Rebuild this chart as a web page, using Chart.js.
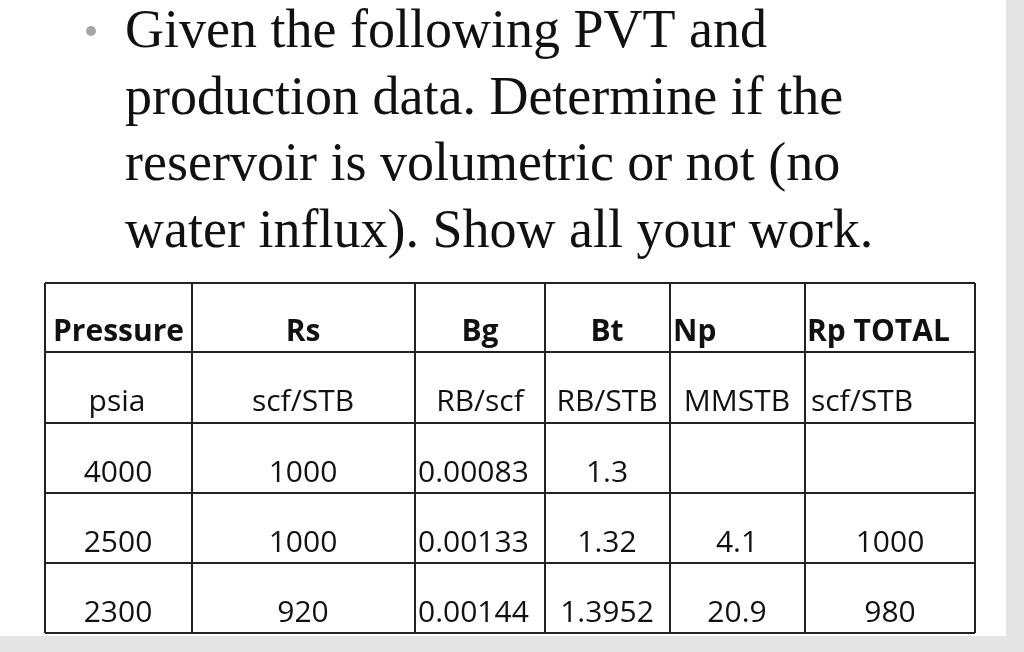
<!DOCTYPE html>
<html lang="en">
<head>
  <meta charset="UTF-8" />
  <title>PVT and production data</title>
  <script src="https://cdn.jsdelivr.net/npm/chart.js"></script>
  <style>
    html, body { margin: 0; padding: 0; background: #fff; }
    .wrap { width: 1024px; height: 652px; position: relative; }
  </style>
</head>
<body>
  <div class="wrap"><canvas id="slide"></canvas></div>

  <script>
    // slide text
    const titleLines = [
      'Given the following PVT and',
      'production data. Determine if the',
      'reservoir is volumetric or not (no',
      'water influx). Show all your work.'
    ];
    // table content
    const headers = ['Pressure', 'Rs', 'Bg', 'Bt', 'Np', 'Rp TOTAL'];
    const units = ['psia', 'scf/STB', 'RB/scf', 'RB/STB', 'MMSTB', 'scf/STB'];
    const pressure = ['4000', '2500', '2300'];
    const rs = ['1000', '1000', '920'];
    const bg = ['0.00083', '0.00133', '0.00144'];
    const bt = ['1.3', '1.32', '1.3952'];
    const np = ['', '4.1', '20.9'];
    const rp = ['', '1000', '980'];

    // layout in page units (x 0..1024, y 0..652)
    const colEdges = [45, 192, 415, 545, 670, 805, 975];
    const rowEdges = [283, 352, 423, 493, 563, 633];
    const headAnchor = [[53, 'left'], [303, 'center'], [480, 'center'], [607, 'center'], [673, 'left'], [807, 'left']];
    const unitAnchor = [[117, 'center'], [303, 'center'], [480, 'center'], [607, 'center'], [737, 'center'], [862, 'center']];
    const cellAnchor = [[118, 'center'], [303, 'center'], [418, 'left'], [607, 'center'], [737, 'center'], [890, 'center']];

    const tablePlugin = {
      id: 'tablePlugin',
      afterDraw(chart) {
        const ctx = chart.ctx;
        const xs = chart.scales.x, ys = chart.scales.y;
        const X = v => xs.getPixelForValue(v);
        const Y = v => ys.getPixelForValue(v);
        ctx.save();
        // grey frame strips
        ctx.fillStyle = '#e4e4e4';
        ctx.fillRect(X(1006), Y(0), X(1024) - X(1006), Y(652) - Y(0));
        ctx.fillRect(X(0), Y(636), X(1024) - X(0), Y(652) - Y(636));

        // bullet and title
        ctx.fillStyle = '#a6a6a6';
        ctx.beginPath();
        ctx.arc(X(91), Y(31), 5, 0, Math.PI * 2);
        ctx.fill();
        ctx.fillStyle = '#111';
        ctx.font = '54px "Liberation Serif", serif';
        ctx.textAlign = 'left';
        ctx.textBaseline = 'alphabetic';
        titleLines.forEach((t, i) => ctx.fillText(t, X(125), Y(47 + i * 66.5)));

        // grid
        ctx.strokeStyle = '#222';
        ctx.lineWidth = 2;
        ctx.fillStyle = '#fff';
        ctx.fillRect(X(colEdges[0]), Y(rowEdges[0]), X(colEdges[6]) - X(colEdges[0]), Y(rowEdges[5]) - Y(rowEdges[0]));
        rowEdges.forEach(r => {
          ctx.beginPath(); ctx.moveTo(X(colEdges[0]), Y(r)); ctx.lineTo(X(colEdges[6]), Y(r)); ctx.stroke();
        });
        colEdges.forEach(c => {
          ctx.beginPath(); ctx.moveTo(X(c), Y(rowEdges[0])); ctx.lineTo(X(c), Y(rowEdges[5])); ctx.stroke();
        });

        // text sits low in each cell
        ctx.fillStyle = '#111';
        ctx.textBaseline = 'middle';
        const put = (txt, anc, yc) => {
          ctx.textAlign = anc[1];
          ctx.fillText(txt, X(anc[0]), Y(yc));
        };
        const mid = i => (rowEdges[i] + rowEdges[i + 1]) / 2 + 15;
        ctx.font = 'bold 30px "Open Sans", "Liberation Sans", sans-serif';
        headers.forEach((h, i) => put(h, headAnchor[i], mid(0)));
        ctx.font = '30px "Open Sans", "Liberation Sans", sans-serif';
        units.forEach((u, i) => put(u, unitAnchor[i], mid(1)));
        const cols = [pressure, rs, bg, bt, np, rp];
        pressure.forEach((_, r) => {
          cols.forEach((col, c) => put(col[r], cellAnchor[c], mid(r + 2)));
        });
        ctx.restore();
      }
    };

    new Chart(document.getElementById('slide'), {
      type: 'scatter',
      data: { datasets: [{ data: [], pointRadius: 0 }] },
      options: {
        responsive: true,
        maintainAspectRatio: false,
        animation: false,
        layout: { padding: 0 },
        plugins: { legend: { display: false }, tooltip: { enabled: false } },
        scales: {
          x: { type: 'linear', min: 0, max: 1024, display: false },
          y: { type: 'linear', min: 0, max: 652, reverse: true, display: false }
        }
      },
      plugins: [tablePlugin]
    });
  </script>
</body>
</html>
